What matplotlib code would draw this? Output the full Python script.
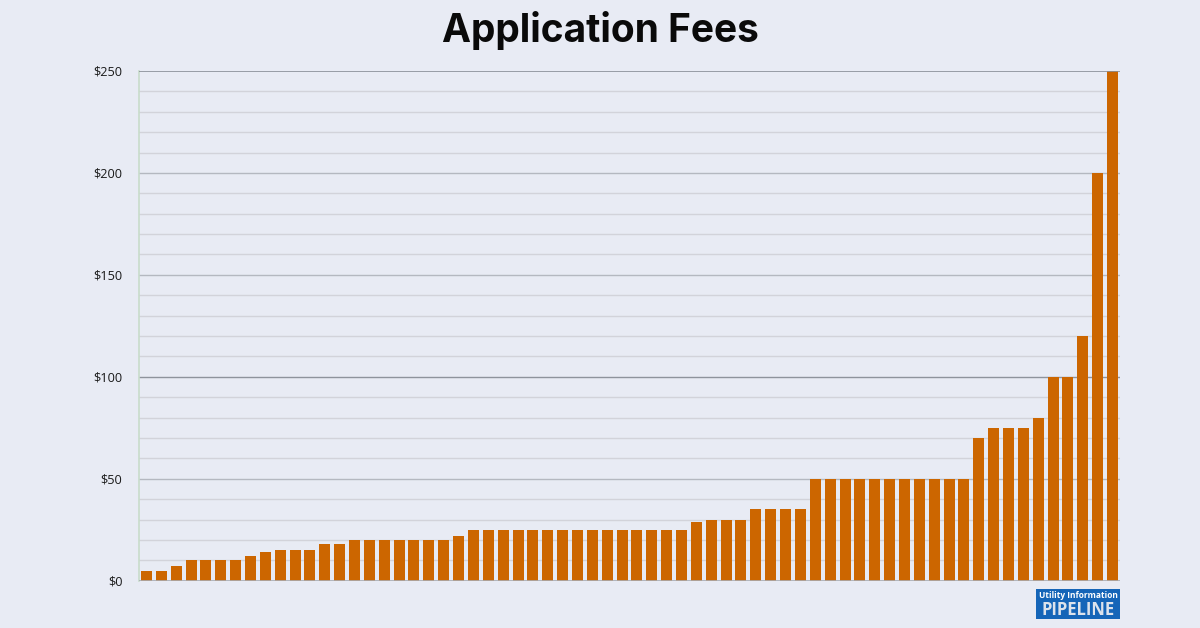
import matplotlib
matplotlib.use("Agg")
import matplotlib.pyplot as plt
from matplotlib.patches import Rectangle

# Data
fees = [5, 5, 7, 10, 10, 10, 10, 12, 14, 15, 15, 15, 18, 18,
        20, 20, 20, 20, 20, 20, 20, 22,
        25, 25, 25, 25, 25, 25, 25, 25, 25, 25, 25, 25, 25, 25, 25,
        29, 30, 30, 30, 35, 35, 35, 35,
        50, 50, 50, 50, 50, 50, 50, 50, 50, 50, 50,
        70, 75, 75, 75, 80, 100, 100, 120, 200, 250]
y_ticks = [0, 50, 100, 150, 200, 250]
y_labels = ["$0", "$50", "$100", "$150", "$200", "$250"]
title = "Application Fees"

BG = "#E8EBF4"
BAR = "#CC6600"

fig = plt.figure(figsize=(12, 6.28), dpi=100, facecolor=BG)
ax = fig.add_axes([139/1200, 1 - 580.7/628, 981/1200, (580.7 - 71)/628])
ax.set_facecolor(BG)

x = list(range(len(fees)))
ax.bar(x, fees, width=0.74, color=BAR, edgecolor="none", zorder=3)

ax.set_xlim(-0.5, len(fees) - 0.5)
ax.set_ylim(0, 250)

# gridlines every 10, darker every 50
for v in range(10, 250, 10):
    if v % 50 == 0:
        c = "#8E939C" if v == 100 else "#B4B8C0"
    else:
        c = "#D2D3DA"
    ax.axhline(v, color=c, lw=1.0, zorder=1)
ax.axhline(250, color="#8A8F98", lw=1.2, zorder=4)
ax.axhline(0, color="#A8ACB4", lw=1.2, zorder=4)

for s in ["top", "right", "bottom"]:
    ax.spines[s].set_visible(False)
ax.spines["left"].set_color("#C8DCCB")
ax.spines["left"].set_linewidth(1.2)

ax.set_xticks([])
ax.set_yticks(y_ticks)
ax.set_yticklabels(y_labels, fontsize=9.2, color="#1a1a1a", family="Open Sans")
ax.tick_params(axis="y", length=0, pad=12)

fig.text(0.5, 1 - 31/628, title, ha="center", va="center",
         fontsize=28, fontweight="bold", family="Inter", color="#0a0a0a")

# logo
lx0, ly0, lw_, lh = 1036/1200, 1 - 619/628, 84/1200, 30/628
fig.patches.append(Rectangle((lx0, ly0), lw_, lh, transform=fig.transFigure,
                             facecolor="#1565B8", edgecolor="none"))
fig.text(lx0 + lw_/2, ly0 + lh*0.77, "Utility Information", ha="center", va="center",
         fontsize=6.0, color="white", fontweight="bold", family="Open Sans")
fig.text(lx0 + lw_/2, ly0 + lh*0.30, "PIPELINE", ha="center", va="center",
         fontsize=12, color="#DDE3EC", fontweight="bold", family="Open Sans")

fig.savefig("out.png", dpi=100, facecolor=BG)
